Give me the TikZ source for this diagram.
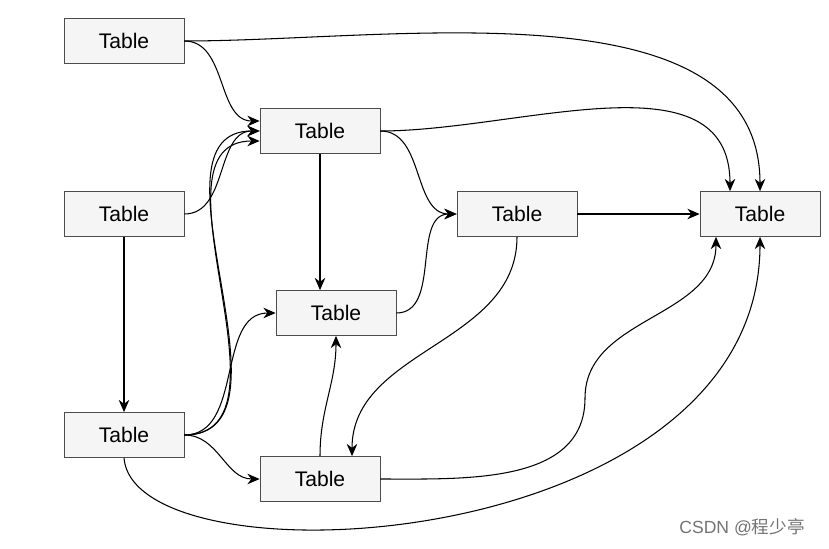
\documentclass[tikz,border=0pt]{standalone}
\usepackage{fontspec}
\setmainfont{Liberation Sans}
\newfontfamily\cjk{Noto Sans CJK SC}
\usetikzlibrary{arrows.meta,positioning}
\tikzstyle{tbl} = [rectangle, draw=black!70, fill=black!4, minimum width=2.4cm, minimum height=0.9cm, font=\fontsize{12}{14}\selectfont]
\tikzstyle{arrow} = [semithick,-{Stealth[length=7pt,width=6pt]}]

\begin{document}
\begin{tikzpicture}
            \useasboundingbox (0,0) rectangle (16.58,10.96);
            \node (ta) [tbl] at (2.48,10.14) {Table};
            \node (tc) [tbl] at (2.48,6.68) {Table};
            \node (tg) [tbl] at (2.48,2.26) {Table};
            \node (tb) [tbl] at (6.4,8.34) {Table};
            \node (tf) [tbl] at (6.72,4.7) {Table};
            \node (th) [tbl] at (6.4,1.38) {Table};
            \node (td) [tbl] at (10.34,6.68) {Table};
            \node (te) [tbl] at (15.2,6.68) {Table};
            \node (mark) [text=black!55, font=\fontsize{10}{12}\selectfont] at (14.84,0.42) {CSDN @{\cjk 程少亭}};
            \coordinate (bend) at (11.7,3.0);
            
            \draw [arrow] (ta.east) to[out=0, in=180] ([yshift=0.2cm]tb.west);
            \draw [arrow] (ta.east) to[out=0, in=90, looseness=0.9] (te.north);
            \draw [arrow] (tc.east) to[out=0, in=180] (tb.west);
            \draw [arrow] (tg.east) to[out=0, in=180] (tb.west);
            \draw [arrow] (tg.east) to[out=0, in=180] ([yshift=-0.2cm]tb.west);
            \draw [arrow] (tg.east) to[out=0, in=180] (tf.west);
            \draw [arrow] (tg.east) to[out=0, in=180] (th.west);
            \draw [arrow] (tc.south) -- (tg.north);
            
            \draw [arrow] (tb.south) -- (tb.south |- tf.north);
            \draw [arrow] (tb.east) to[out=0, in=180] (td.west);
            \draw [arrow] (tb.east) to[out=0, in=90] ([xshift=-0.6cm]te.north);
            \draw [arrow] (tf.east) to[out=0, in=180] (td.west);
            \draw [arrow] (td.east) -- (te.west);
            
            \draw [arrow] (td.south) to[out=-90, in=90] ([xshift=0.64cm]th.north);
            \draw [arrow] (th.north) to[out=90, in=-90] (tf.south);
            \draw [arrow] (th.east) to[out=0, in=-90] (bend) to[out=90, in=-90] ([xshift=-0.88cm]te.south);
            \draw [arrow] (tg.south) .. controls +(0.2,-2.6) and +(0,-6.4) .. (te.south);
        \end{tikzpicture}
\end{document}
